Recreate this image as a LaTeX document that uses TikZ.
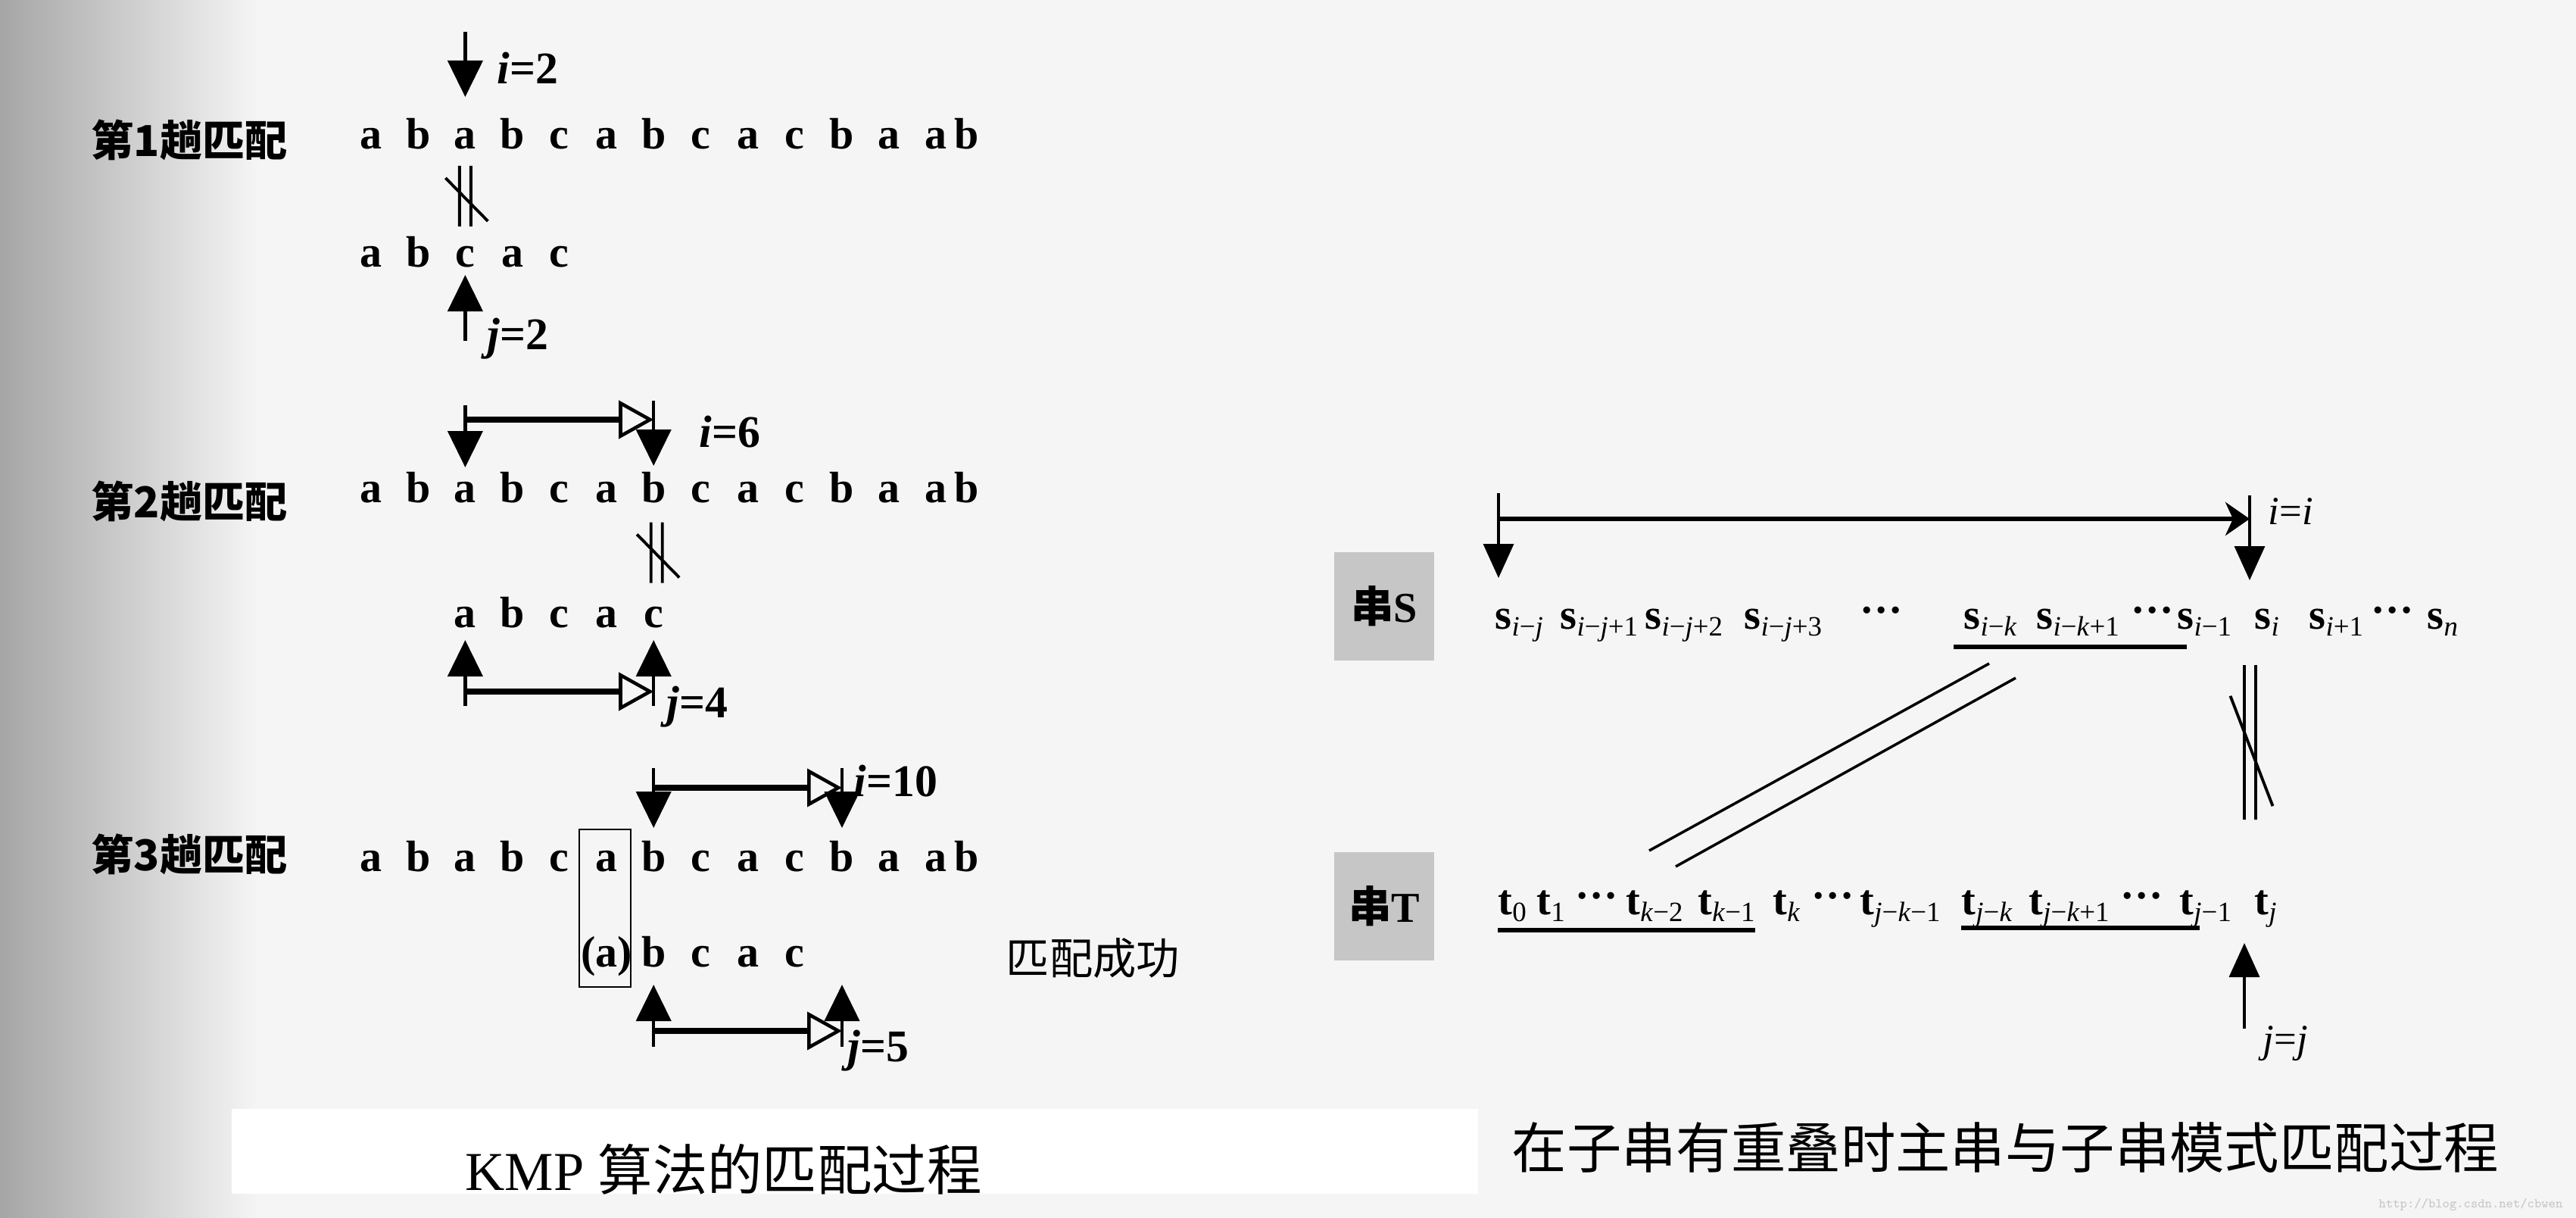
\documentclass[tikz,border=0pt]{standalone}
\usepackage{fontspec}
\setmainfont{Liberation Serif}
\newfontfamily\cjk{Noto Sans CJK SC}
\usetikzlibrary{arrows.meta,calc,positioning}

\newcommand{\gap}{0.622}
\newcommand{\iv}[1]{\textit{#1}}
\newcommand{\subs}[1]{\raisebox{-0.35ex}{\fontsize{10.5}{11}\selectfont\mdseries #1}}
\newcommand{\mdots}{\raisebox{0.36em}{\textbf{…}}}
\newcommand{\sy}[2]{\textbf{#1}\subs{#2}}

\tikzset{
    letter/.style={anchor=base, inner sep=0pt, font=\fontsize{16.5}{18}\selectfont\bfseries},
    pass/.style={anchor=west, inner sep=0pt, font=\cjk\bfseries\fontsize{16}{18}\selectfont},
    idx/.style={anchor=west, inner sep=0pt, font=\fontsize{17}{18}\selectfont\bfseries},
    lab/.style={anchor=west, inner sep=0pt, font=\fontsize{15}{16}\selectfont},
    sym/.style={anchor=base west, inner sep=0pt, font=\fontsize{16}{18}\selectfont},
    tag/.style={fill=gray!45, minimum width=1.32cm, minimum height=1.43cm, inner sep=0pt,
        font=\fontsize{16}{18}\selectfont\bfseries},
    caption/.style={anchor=west, inner sep=0pt, font=\fontsize{20.6}{22}\selectfont},
    ptr/.style={line width=1.2pt, -{Triangle[length=0.48cm, width=0.46cm]}},
    rptr/.style={line width=1pt, -{Triangle[length=0.45cm, width=0.4cm]}},
    jump/.style={line width=2pt, -{Triangle[open, length=0.46cm, width=0.5cm, line width=1.3pt]}},
    span/.style={line width=1.6pt, -{Stealth[length=0.32cm, width=0.44cm, inset=0.1cm]}},
    neqline/.style={line width=1.1pt},
    uline/.style={line width=1.8pt},
    pics/neq/.style={code={
        \draw[neqline] (-0.075,0.4) -- (-0.075,-0.4) (0.075,0.4) -- (0.075,-0.4)
            (-0.26,0.24) -- (0.3,-0.33);
    }}
}

\begin{document}
\begin{tikzpicture}
    \useasboundingbox (0,0) rectangle (34.02,-16.08);
    \fill[gray!8] (0,0) rectangle (34.02,-16.08);
    \shade[left color=gray!70, right color=gray!8] (0,0) rectangle (3.4,-16.08);
    \fill[white] (3.06,-14.64) rectangle (19.52,-15.76);

    % KMP passes
    \foreach \r/\y in {1/1.97, 2/6.63, 3/11.50}
        \foreach \c [count=\k from 0] in {a,b,a,b,c,a,b,c,a,c,b,a,a,b} {
            \pgfmathsetmacro\xx{\k<13 ? 4.90+\gap*\k : 12.77}
            \node[letter] (m\r-\k) at (\xx,-\y) {\c};
        }
    \foreach \c [count=\k from 0] in {a,b,c,a,c}
        \node[letter] (p1-\k) at (m1-\k |- 0,-3.53) {\c};
    \foreach \c [count=\k from 2] in {a,b,c,a,c}
        \node[letter] (p2-\k) at (m2-\k |- 0,-8.28) {\c};
    \foreach \c [count=\k from 5] in {(a),b,c,a,c}
        \node[letter] (p3-\k) at (m3-\k |- 0,-12.76) {\c};

    \node[pass] (pass1) at (1.20,-1.85) {第1趟匹配};
    \node[pass] (pass2) at (1.20,-6.62) {第2趟匹配};
    \node[pass] (pass3) at (1.20,-11.28) {第3趟匹配};

    \draw[ptr] (m1-2 |- 0,-0.42) -- (m1-2 |- 0,-1.28);
    \node[idx] (i1) at (6.56,-0.90) {\iv{i}=2};
    \path ($(m1-2.base)!0.5!(p1-2.base)+(0,0.16)$) pic {neq};
    \draw[ptr] (p1-2 |- 0,-4.50) -- (p1-2 |- 0,-3.63);
    \node[idx] (j1) at (6.43,-4.47) {\iv{j}=2};

    \draw[ptr] (m2-2 |- 0,-5.35) -- (m2-2 |- 0,-6.17);
    \draw[ptr] (m2-6 |- 0,-5.29) -- (m2-6 |- 0,-6.15);
    \draw[jump] (m2-2 |- 0,-5.54) -- (m2-6 |- 0,-5.54);
    \node[idx] (i2) at (9.23,-5.70) {\iv{i}=6};
    \path ($(m2-6.base)!0.5!(p2-6.base)+(0.04,0.16)$) pic {neq};
    \draw[ptr] (p2-2 |- 0,-9.32) -- (p2-2 |- 0,-8.45);
    \draw[ptr] (p2-6 |- 0,-9.32) -- (p2-6 |- 0,-8.45);
    \draw[jump] (p2-2 |- 0,-9.13) -- (p2-6 |- 0,-9.13);
    \node[idx] (j2) at (8.80,-9.33) {\iv{j}=4};

    \draw[ptr] (m3-6 |- 0,-10.14) -- (m3-6 |- 0,-10.93);
    \draw[ptr] (m3-10 |- 0,-10.14) -- (m3-10 |- 0,-10.93);
    \draw[jump] (m3-6 |- 0,-10.40) -- (m3-10 |- 0,-10.40);
    \node[idx] (i3) at (11.27,-10.31) {\iv{i}=10};
    \draw[line width=0.6pt] ([xshift=-0.36cm, yshift=0.55cm]m3-5.base) rectangle ([xshift=0.32cm, yshift=-0.27cm]p3-5.base);
    \draw[ptr] (m3-6 |- 0,-13.82) -- (m3-6 |- 0,-13.00);
    \draw[ptr] (m3-10 |- 0,-13.82) -- (m3-10 |- 0,-13.00);
    \draw[jump] (m3-6 |- 0,-13.61) -- (m3-10 |- 0,-13.61);
    \node[idx] (j3) at (11.19,-13.87) {\iv{j}=5};
    \node[anchor=west, inner sep=0pt, font=\cjk\fontsize{16.3}{18}\selectfont] (done) at (13.28,-12.65) {匹配成功};

    \node[caption] (cap1) at (6.14,-15.44) {KMP {\cjk 算法的匹配过程}};

    % strings S and T
    \node[tag] (tagS) at (18.28,-8.00) {{\cjk 串}S};
    \node[tag] (tagT) at (18.28,-11.96) {{\cjk 串}T};

    \foreach \x/\s [count=\n] in {19.74/{\sy{s}{\iv{i}−\iv{j}}}, 20.60/{\sy{s}{\iv{i}−\iv{j}+1}},
            21.72/{\sy{s}{\iv{i}−\iv{j}+2}}, 23.03/{\sy{s}{\iv{i}−\iv{j}+3}}, 24.56/{\mdots},
            25.93/{\sy{s}{\iv{i}−\iv{k}}}, 26.89/{\sy{s}{\iv{i}−\iv{k}+1}}, 28.14/{\mdots},
            28.75/{\sy{s}{\iv{i}−1}}, 29.77/{\sy{s}{\iv{i}}}, 30.49/{\sy{s}{\iv{i}+1}},
            31.31/{\mdots}, 32.05/{\sy{s}{\iv{n}}}}
        \node[sym] (s\n) at (\x,-8.30) {\s};
    \foreach \x/\s [count=\n] in {19.78/{\sy{t}{0}}, 20.29/{\sy{t}{1}}, 20.80/{\mdots},
            21.47/{\sy{t}{\iv{k}−2}}, 22.42/{\sy{t}{\iv{k}−1}}, 23.41/{\sy{t}{\iv{k}}}, 23.92/{\mdots},
            24.56/{\sy{t}{\iv{j}−\iv{k}−1}}, 25.90/{\sy{t}{\iv{j}−\iv{k}}}, 26.79/{\sy{t}{\iv{j}−\iv{k}+1}},
            28.00/{\mdots}, 28.78/{\sy{t}{\iv{j}−1}}, 29.77/{\sy{t}{\iv{j}}}}
        \node[sym] (t\n) at (\x,-12.07) {\s};

    \draw[uline] ([shift={(-0.13,-0.24)}]s6.base west) -- ([shift={(0.13,-0.24)}]s9.base west);
    \draw[uline] ([yshift=-0.21cm]t1.base west) -- ([yshift=-0.21cm]t5.base east);
    \draw[uline] ([yshift=-0.18cm]t9.base west) -- ([shift={(0.27,-0.18)}]t12.base west);
    \draw[line width=1pt] ([shift={(0.34,-0.46)}]s6.base west) -- ([shift={(0.31,0.84)}]t4.base west);
    \draw[line width=1pt] ([shift={(0.69,-0.65)}]s6.base west) -- ([shift={(0.66,0.63)}]t4.base west);

    \coordinate (sL) at ([xshift=0.05cm]s1.base west);
    \coordinate (sR) at ([xshift=-0.06cm]s10.base west);
    \coordinate (tR) at ([xshift=-0.13cm]t13.base west);
    \draw[rptr] (sL |- 0,-6.51) -- (sL |- 0,-7.63);
    \draw[rptr] (sR |- 0,-6.54) -- (sR |- 0,-7.66);
    \draw[span] (sL |- 0,-6.85) -- (sR |- 0,-6.85);
    \node[lab] (ii) at (29.95,-6.75) {\iv{i}=\iv{i}};
    \path ($(s10.base west)!0.5!(t13.base west)+(-0.055,0.385)$) pic[yscale=2.55] {neq};
    \draw[rptr] (tR |- 0,-13.58) -- (tR |- 0,-12.45);
    \node[lab] (jj) at (29.88,-13.78) {\iv{j}=\iv{j}};

    \node[caption] (cap2) at (19.96,-15.15) {\cjk 在子串有重叠时主串与子串模式匹配过程};
    \node[inner sep=0pt, text=gray!45, font=\ttfamily\fontsize{5}{6}\selectfont] (mark) at (32.63,-15.90) {http://blog.csdn.net/cbwen};
\end{tikzpicture}
\end{document}
